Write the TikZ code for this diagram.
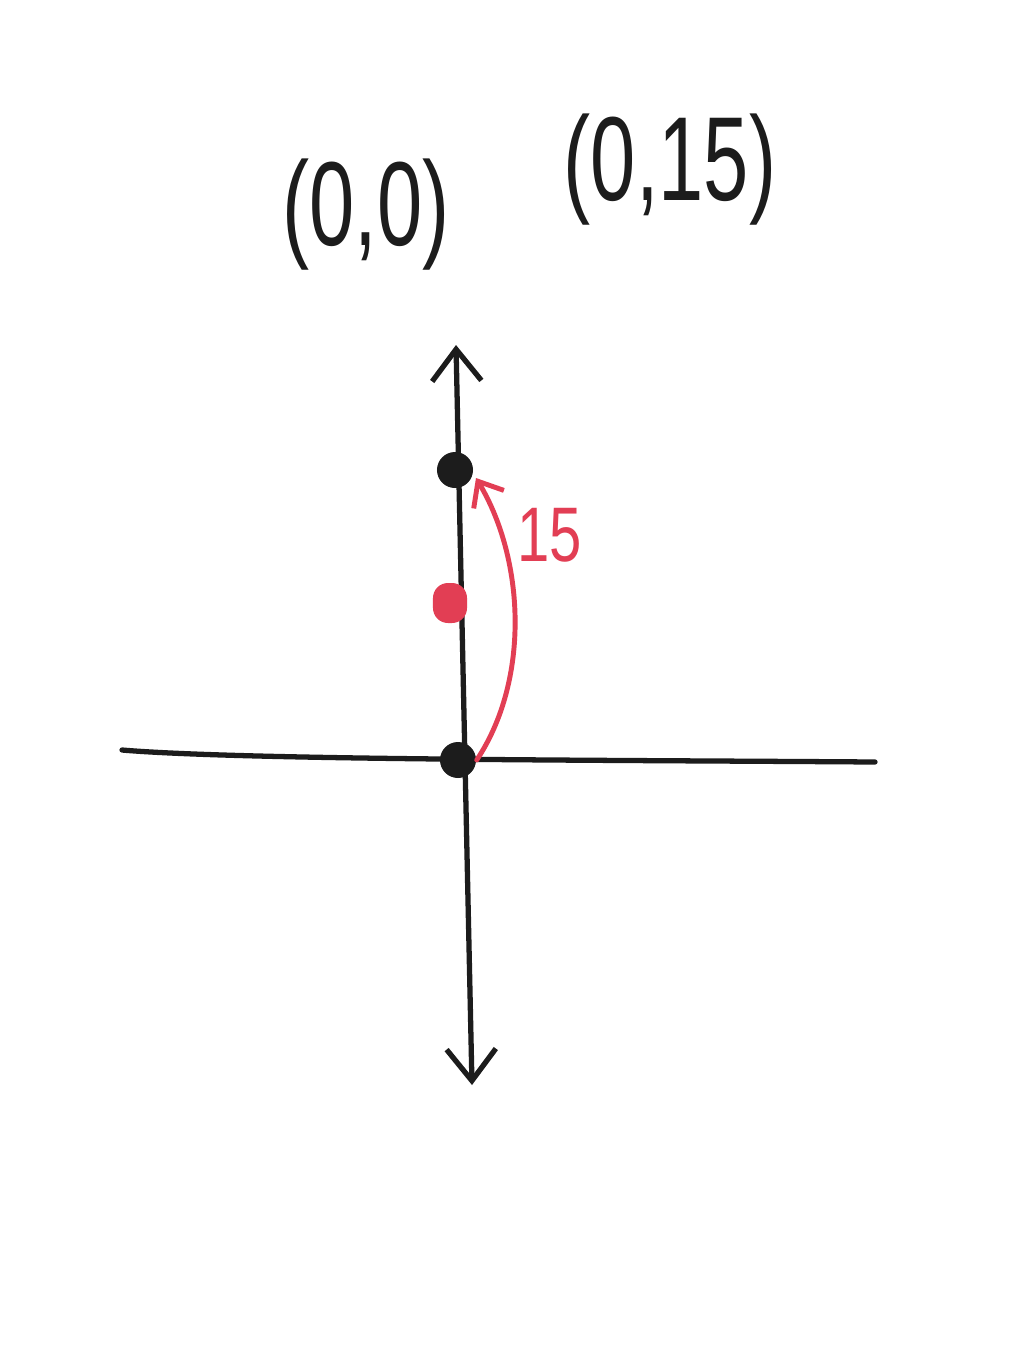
\documentclass[tikz,border=0pt]{standalone}
\usepackage{fontspec}
\setsansfont{Liberation Sans}
\usetikzlibrary{arrows.meta,positioning}
\definecolor{penred}{RGB}{226,62,84}
\definecolor{penblack}{RGB}{28,28,28}

\begin{document}
\begin{tikzpicture}[x=0.01cm,y=-0.01cm,
    pen/.style={draw=penblack,line width=1.5pt,line cap=round},
    axisarrow/.style={pen,{Straight Barb[length=9pt,width=14pt,line width=1.5pt]}-{Straight Barb[length=9pt,width=14pt,line width=1.5pt]}},
    dot/.style={circle,fill=penblack,inner sep=0pt,minimum size=0.36cm},
    reddot/.style={rounded corners=0.15cm,fill=penred,inner sep=0pt,minimum width=0.34cm,minimum height=0.40cm},
    label/.style={font=\sffamily\fontsize{34}{40}\selectfont,text=penblack,xscale=0.68}]
    %% Bounding box
    \useasboundingbox (0,0) rectangle (1024,1366);
    \fill[white] (0,0) rectangle (1024,1366);
    %% Points on the axes
    \coordinate (top) at (456,345);
    \coordinate (bottom) at (472,1085);
    \coordinate (left) at (122,750);
    \coordinate (right) at (875,762);
    \coordinate (tip) at (476,478);
    %% Axes
    \draw[pen] (left) .. controls (240,760) and (600,760) .. (right);
    \draw[axisarrow] (bottom) -- (top);
    %% Dots
    \node[dot] (origin) at (458,760) {};
    \node[dot] (end) at (455,470) {};
    \node[reddot] (mid) at (450,603) {};
    %% Red jump
    \draw[penred,line width=1.4pt,line cap=round,-{Straight Barb[length=6pt,width=10pt,line width=1.4pt]}]
      (origin.east) .. controls (530,680) and (525,560) .. (tip);
    \node[text=penred,font=\sffamily\fontsize{22}{26}\selectfont,xscale=0.75] (jump) at (550,535) {15};
    %% Labels
    \node[label] (lblorigin) at (366,215) {(0,0)};
    \node[label] (lblend) at (670,170) {(0,15)};
\end{tikzpicture}
\end{document}
